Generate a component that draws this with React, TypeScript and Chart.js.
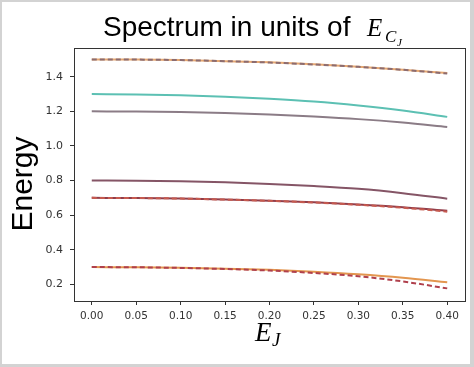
import React, { useEffect, useRef } from 'react';
import { Chart, registerables } from 'chart.js';

Chart.register(...registerables);

// E_J values (x axis)
const ejValues = [0.0, 0.05, 0.1, 0.15, 0.2, 0.25, 0.3, 0.35, 0.4];

// Energy levels (solid = exact, dashed = approximation)
const level15Solid = [1.5, 1.499, 1.496, 1.49, 1.483, 1.472, 1.458, 1.441, 1.421];
const level15Dashed = [1.5, 1.499, 1.496, 1.49, 1.482, 1.471, 1.457, 1.44, 1.418];
const level13Solid = [1.3, 1.298, 1.293, 1.285, 1.273, 1.257, 1.234, 1.205, 1.168];
const level12Solid = [1.2, 1.199, 1.196, 1.19, 1.182, 1.17, 1.155, 1.135, 1.11];
const level08Solid = [0.8, 0.799, 0.796, 0.79, 0.78, 0.768, 0.752, 0.727, 0.695];
const level07Solid = [0.7, 0.699, 0.696, 0.691, 0.684, 0.674, 0.662, 0.646, 0.625];
const level07Dashed = [0.7, 0.699, 0.696, 0.69, 0.683, 0.673, 0.66, 0.643, 0.62];
const level03Solid = [0.3, 0.299, 0.296, 0.291, 0.284, 0.273, 0.258, 0.238, 0.212];
const level03Dashed = [0.3, 0.299, 0.295, 0.289, 0.28, 0.266, 0.247, 0.217, 0.177];

const xTicks = [0.0, 0.05, 0.1, 0.15, 0.2, 0.25, 0.3, 0.35, 0.4];
const yTicks = [0.2, 0.4, 0.6, 0.8, 1.0, 1.2, 1.4];

const W = 474;
const H = 367;

function pts(ys: number[]) {
  return ys.map((y, i) => ({ x: ejValues[i], y }));
}

const overlayPlugin = {
  id: 'overlay',
  afterDraw(chart: any) {
    const ctx = chart.ctx as CanvasRenderingContext2D;
    const a = chart.chartArea;
    ctx.save();
    // frame
    ctx.strokeStyle = '#333';
    ctx.lineWidth = 1;
    ctx.strokeRect(Math.round(a.left) + 0.5, Math.round(a.top) + 0.5, Math.round(a.right - a.left), Math.round(a.bottom - a.top));

    // title
    ctx.fillStyle = '#000';
    ctx.textBaseline = 'alphabetic';
    ctx.textAlign = 'left';
    ctx.font = '28px "Liberation Sans", Arial, sans-serif';
    ctx.fillText('Spectrum in units of', 103, 36);
    ctx.font = 'italic 25px "Liberation Serif", "DejaVu Serif", serif';
    ctx.fillText('E', 367, 36);
    ctx.font = 'italic 17px "Liberation Serif", "DejaVu Serif", serif';
    ctx.fillText('C', 385, 42);
    ctx.font = 'italic 11px "Liberation Serif", "DejaVu Serif", serif';
    ctx.fillText('J', 397, 46);

    // x label
    ctx.font = 'italic 27px "Liberation Serif", "DejaVu Serif", serif';
    ctx.fillText('E', 255, 341);
    ctx.font = 'italic 19px "Liberation Serif", "DejaVu Serif", serif';
    ctx.fillText('J', 272, 346);

    // y label
    ctx.translate(24, 184);
    ctx.rotate(-Math.PI / 2);
    ctx.textAlign = 'center';
    ctx.textBaseline = 'middle';
    ctx.font = '30px "Liberation Sans", Arial, sans-serif';
    ctx.fillText('Energy', 0, 0);
    ctx.restore();
  },
};

export default function App() {
  const ref = useRef<HTMLCanvasElement | null>(null);

  useEffect(() => {
    document.body.style.margin = '0';
    if (!ref.current) return;
    const solid = (label: string, data: number[], color: string) => ({
      label,
      data: pts(data),
      borderColor: color,
      backgroundColor: color,
      borderWidth: 2,
      pointRadius: 0,
      fill: false,
      cubicInterpolationMode: 'monotone' as const,
    });
    const dashed = (label: string, data: number[], color: string) => ({
      ...solid(label, data, color),
      borderDash: [5, 3],
    });

    const chart = new Chart(ref.current, {
      type: 'line',
      data: {
        datasets: [
          dashed('1.5 approx', level15Dashed, '#8c6c70'),
          dashed('0.7 approx', level07Dashed, '#c65a4f'),
          dashed('0.3 approx', level03Dashed, '#b0404c'),
          solid('1.5 exact', level15Solid, '#e6a872'),
          solid('1.3 exact', level13Solid, '#5cc0b3'),
          solid('1.2 exact', level12Solid, '#8b7c86'),
          solid('0.8 exact', level08Solid, '#855566'),
          solid('0.7 exact', level07Solid, '#913d4a'),
          solid('0.3 exact', level03Solid, '#e3964f'),
        ],
      },
      options: {
        responsive: false,
        animation: false,
        layout: { padding: { left: 0, top: 48, right: W - 465, bottom: 0 } },
        plugins: {
          legend: { display: false },
          title: { display: false },
          tooltip: { enabled: false },
        },
        scales: {
          x: {
            type: 'linear',
            min: -0.02,
            max: 0.42,
            afterBuildTicks: (s: any) => {
              s.ticks = xTicks.map((v) => ({ value: v }));
            },
            afterFit: (s: any) => {
              s.height = H - 301;
            },
            grid: { display: true, drawOnChartArea: false, drawTicks: true, tickLength: 4, color: '#333' },
            border: { display: false },
            ticks: {
              color: '#333',
              padding: 5,
              maxRotation: 0,
              autoSkip: false,
              font: { family: '"DejaVu Sans", sans-serif', size: 10.5 },
              callback: (v: any) => Number(v).toFixed(2),
            },
          },
          y: {
            type: 'linear',
            min: 0.104,
            max: 1.566,
            afterBuildTicks: (s: any) => {
              s.ticks = yTicks.map((v) => ({ value: v }));
            },
            afterFit: (s: any) => {
              s.width = 74;
            },
            grid: { display: true, drawOnChartArea: false, drawTicks: true, tickLength: 4, color: '#333' },
            border: { display: false },
            ticks: {
              color: '#333',
              padding: 7,
              autoSkip: false,
              font: { family: '"DejaVu Sans", sans-serif', size: 11 },
              callback: (v: any) => Number(v).toFixed(1),
            },
          },
        },
      },
      plugins: [overlayPlugin],
    });
    return () => chart.destroy();
  }, []);

  return (
    <div style={{ position: 'absolute', left: 0, top: 0, width: W, height: H, background: '#d3d3d3' }}>
      <div style={{ position: 'absolute', left: 2, top: 2, width: W - 6, height: H - 5, background: '#fff' }} />
      <canvas ref={ref} width={W} height={H} style={{ position: 'absolute', left: 0, top: 0, width: W, height: H }} />
    </div>
  );
}
